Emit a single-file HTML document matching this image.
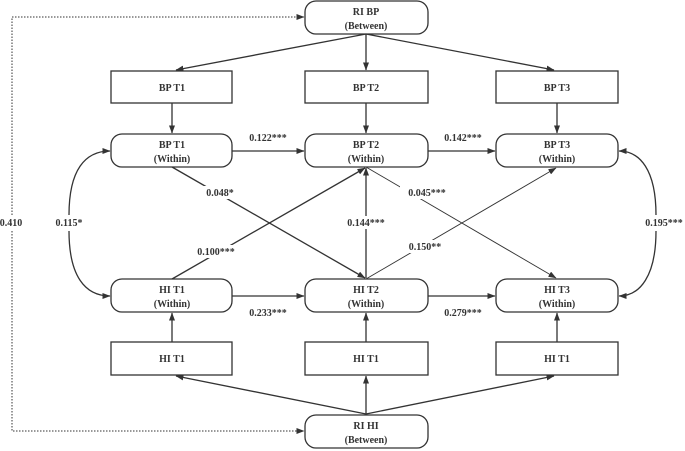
<!DOCTYPE html>
<html><head><meta charset="utf-8"><style>
html,body{margin:0;padding:0;background:#fff;}
svg{display:block;}
text{font-family:"Liberation Serif",serif;font-weight:bold;font-size:10px;fill:#333;}
</style></head><body>
<svg width="685" height="451" viewBox="0 0 685 451" xmlns="http://www.w3.org/2000/svg">
<defs>
<marker id="a" markerWidth="8" markerHeight="6" refX="7.5" refY="3" orient="auto" markerUnits="userSpaceOnUse">
<path d="M0,0 L8,3 L0,6 z" fill="#333"/></marker>
</defs>
<g fill="#fff" stroke="#333" stroke-width="1.3">
<rect x="305" y="1" width="123" height="33" rx="11"/>
<rect x="111" y="71" width="121" height="32"/>
<rect x="305" y="71" width="123" height="32"/>
<rect x="496" y="71" width="122" height="32"/>
<rect x="111" y="134" width="121" height="33" rx="11"/>
<rect x="305" y="134" width="123" height="33" rx="11"/>
<rect x="496" y="134" width="122" height="33" rx="11"/>
<rect x="111" y="279" width="121" height="33" rx="11"/>
<rect x="305" y="279" width="123" height="33" rx="11"/>
<rect x="496" y="279" width="122" height="33" rx="11"/>
<rect x="111" y="342" width="121" height="33"/>
<rect x="305" y="342" width="123" height="33"/>
<rect x="496" y="342" width="122" height="33"/>
<rect x="305" y="415" width="123" height="33" rx="11"/>
</g>
<g stroke="#333" stroke-width="1.3" fill="none" marker-end="url(#a)">
<line x1="366" y1="34" x2="176" y2="70"/>
<line x1="366" y1="34" x2="366" y2="70"/>
<line x1="366" y1="34" x2="554" y2="70"/>
<line x1="172" y1="103" x2="172" y2="133"/>
<line x1="366" y1="103" x2="366" y2="133"/>
<line x1="557" y1="103" x2="557" y2="133"/>
<line x1="232" y1="151" x2="304" y2="151"/>
<line x1="428" y1="151" x2="495" y2="151"/>
<line x1="232" y1="296" x2="304" y2="296"/>
<line x1="428" y1="296" x2="495" y2="296"/>
<line x1="172" y1="342" x2="172" y2="313"/>
<line x1="366" y1="342" x2="366" y2="313"/>
<line x1="557" y1="342" x2="557" y2="313"/>
<line x1="366" y1="414" x2="176" y2="376"/>
<line x1="366" y1="414" x2="366" y2="376"/>
<line x1="366" y1="414" x2="554" y2="376"/>
<line x1="366" y1="278" x2="366" y2="168"/>
<line x1="172" y1="167" x2="365" y2="278"/>
<line x1="172" y1="279" x2="365" y2="168"/>
<line x1="366" y1="167" x2="556" y2="278" stroke-width="0.9"/>
<line x1="366" y1="279" x2="556" y2="168" stroke-width="0.9"/>
<path d="M69,215 C69,170 85,151 110,151"/>
<path d="M69,231 C69,276 85,296 110,296"/>
<path d="M656,215 C656,170 640,151 619,151"/>
<path d="M656,231 C656,276 640,296 619,296"/>
<path d="M12,215 L12,17 L304,17" stroke-dasharray="1.5,1.5" stroke-width="1"/>
<path d="M12,231 L12,431 L304,431" stroke-dasharray="1.5,1.5" stroke-width="1"/>
</g>
<g fill="#fff">
<rect x="195" y="186" width="50" height="13"/>
<rect x="400" y="186" width="55" height="13"/>
<rect x="190" y="245" width="52" height="13"/>
<rect x="403" y="240" width="45" height="13"/>
<rect x="340" y="216" width="52" height="13"/>
</g>
<g text-anchor="middle">
<text x="366" y="15">RI BP</text><text x="366" y="29" font-size="9">(Between)</text>
<text x="172" y="91">BP T1</text><text x="366" y="91">BP T2</text><text x="557" y="91">BP T3</text>
<text x="172" y="148">BP T1</text><text x="172" y="162">(Within)</text>
<text x="366" y="148">BP T2</text><text x="366" y="162">(Within)</text>
<text x="557" y="148">BP T3</text><text x="557" y="162">(Within)</text>
<text x="172" y="293">HI T1</text><text x="172" y="307">(Within)</text>
<text x="366" y="293">HI T2</text><text x="366" y="307">(Within)</text>
<text x="557" y="293">HI T3</text><text x="557" y="307">(Within)</text>
<text x="172" y="362">HI T1</text><text x="366" y="362">HI T1</text><text x="557" y="362">HI T1</text>
<text x="366" y="429">RI HI</text><text x="366" y="443" font-size="9">(Between)</text>
<text x="268" y="141">0.122***</text><text x="463" y="141">0.142***</text>
<text x="268" y="316">0.233***</text><text x="463" y="316">0.279***</text>
<text x="220" y="196">0.048*</text><text x="427" y="196">0.045***</text>
<text x="216" y="255">0.100***</text><text x="425" y="250">0.150**</text>
<text x="366" y="226">0.144***</text>
<text x="11" y="226">0.410</text><text x="69" y="226">0.115*</text><text x="664" y="226">0.195***</text>
</g>
</svg>
</body></html>
